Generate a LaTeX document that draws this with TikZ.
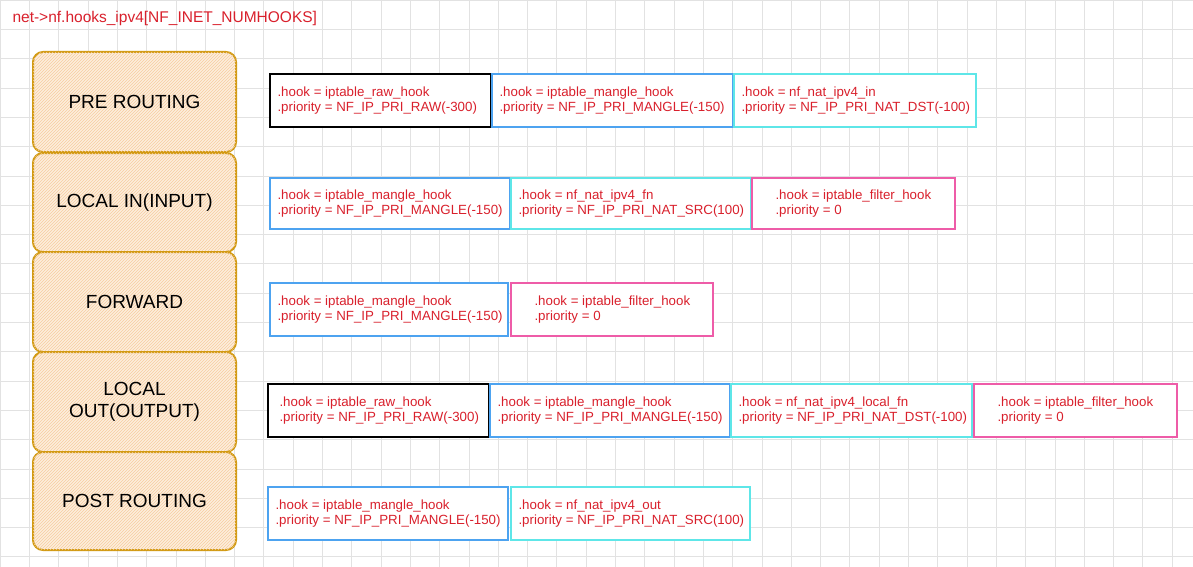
\documentclass[tikz,border=0pt]{standalone}
\usepackage{fontspec}
\setmainfont{Liberation Sans}
\usetikzlibrary{patterns}
\definecolor{gridc}{HTML}{E2E2E2}
\definecolor{yel}{HTML}{D29A12}
\definecolor{fillo}{HTML}{FDEEDD}
\definecolor{hatch}{HTML}{F6CDA0}
\definecolor{txt}{HTML}{D9202C}
\definecolor{cb}{HTML}{4DA3F0}
\definecolor{cc}{HTML}{5EE6E8}
\definecolor{cp}{HTML}{EE5CA8}
\begin{document}
\begin{tikzpicture}[x=1pt,y=-1pt,
 stage/.style={draw=yel,line width=2pt,rounded corners=10pt,fill=fillo,postaction={pattern=north east lines,pattern color=hatch}},
 stl/.style={font=\fontsize{19}{22}\selectfont,align=center,text=black},
 hk/.style={line width=1.6pt,fill=white},
 ht/.style={font=\fontsize{13.3}{15.5}\selectfont,text=txt,align=left,anchor=west}]
\useasboundingbox (0,0) rectangle (1193,567);
\fill[white] (0,0) rectangle (1193,567);
\foreach \i in {0,...,41}{\draw[gridc,line width=0.6pt] ({\i*29.3},0) -- ({\i*29.3},567);}
\foreach \i in {0,...,19}{\draw[gridc,line width=0.6pt] (0,{\i*29.3}) -- (1193,{\i*29.3});}
\node[ht,font=\fontsize{15.5}{18}\selectfont] (title) at (9,18) {net->nf.hooks\_ipv4[NF\_INET\_NUMHOOKS]};
\foreach \n/\a/\b/\t in {pre/52/152/PRE ROUTING,lin/153/252/LOCAL IN(INPUT),fwd/252/352/FORWARD,lout/352/452/{LOCAL\\OUT(OUTPUT)},post/452/550/POST ROUTING}{
 \draw[stage] (33,\a) rectangle (236,\b);
 \node[stl] (\n) at (134.5,{(\a+\b)/2}) {\t};
}
\foreach \n/\xa/\xb/\ya/\yb/\c/\l/\p/\o in {
 a1/270/491/74/127/black/iptable\_raw\_hook/NF\_IP\_PRI\_RAW(-300)/4,
 a2/492/733/74/127/cb/iptable\_mangle\_hook/NF\_IP\_PRI\_MANGLE(-150)/4,
 a3/734/976/74/127/cc/nf\_nat\_ipv4\_in/NF\_IP\_PRI\_NAT\_DST(-100)/4,
 b1/270/510/178/229/cb/iptable\_mangle\_hook/NF\_IP\_PRI\_MANGLE(-150)/4,
 b2/511/751/178/229/cc/nf\_nat\_ipv4\_fn/NF\_IP\_PRI\_NAT\_SRC(100)/4,
 b3/752/955/178/229/cp/iptable\_filter\_hook/0/20,
 c1/270/508/283/336/cb/iptable\_mangle\_hook/NF\_IP\_PRI\_MANGLE(-150)/4,
 c2/511/713/283/336/cp/iptable\_filter\_hook/0/20,
 d1/268/489/384/437/black/iptable\_raw\_hook/NF\_IP\_PRI\_RAW(-300)/8,
 d2/490/730/384/437/cb/iptable\_mangle\_hook/NF\_IP\_PRI\_MANGLE(-150)/4,
 d3/731/972/384/437/cc/nf\_nat\_ipv4\_local\_fn/NF\_IP\_PRI\_NAT\_DST(-100)/4,
 d4/974/1177/384/437/cp/iptable\_filter\_hook/0/20,
 e1/268/508/487/540/cb/iptable\_mangle\_hook/NF\_IP\_PRI\_MANGLE(-150)/4,
 e2/511/750/487/540/cc/nf\_nat\_ipv4\_out/NF\_IP\_PRI\_NAT\_SRC(100)/4}{
 \draw[hk,draw=\c] (\xa,\ya) rectangle (\xb,\yb);
 \node[ht] (\n) at ({\xa+\o},{(\ya+\yb)/2}) {.hook = \l\\.priority = \p};
}
\end{tikzpicture}
\end{document}
